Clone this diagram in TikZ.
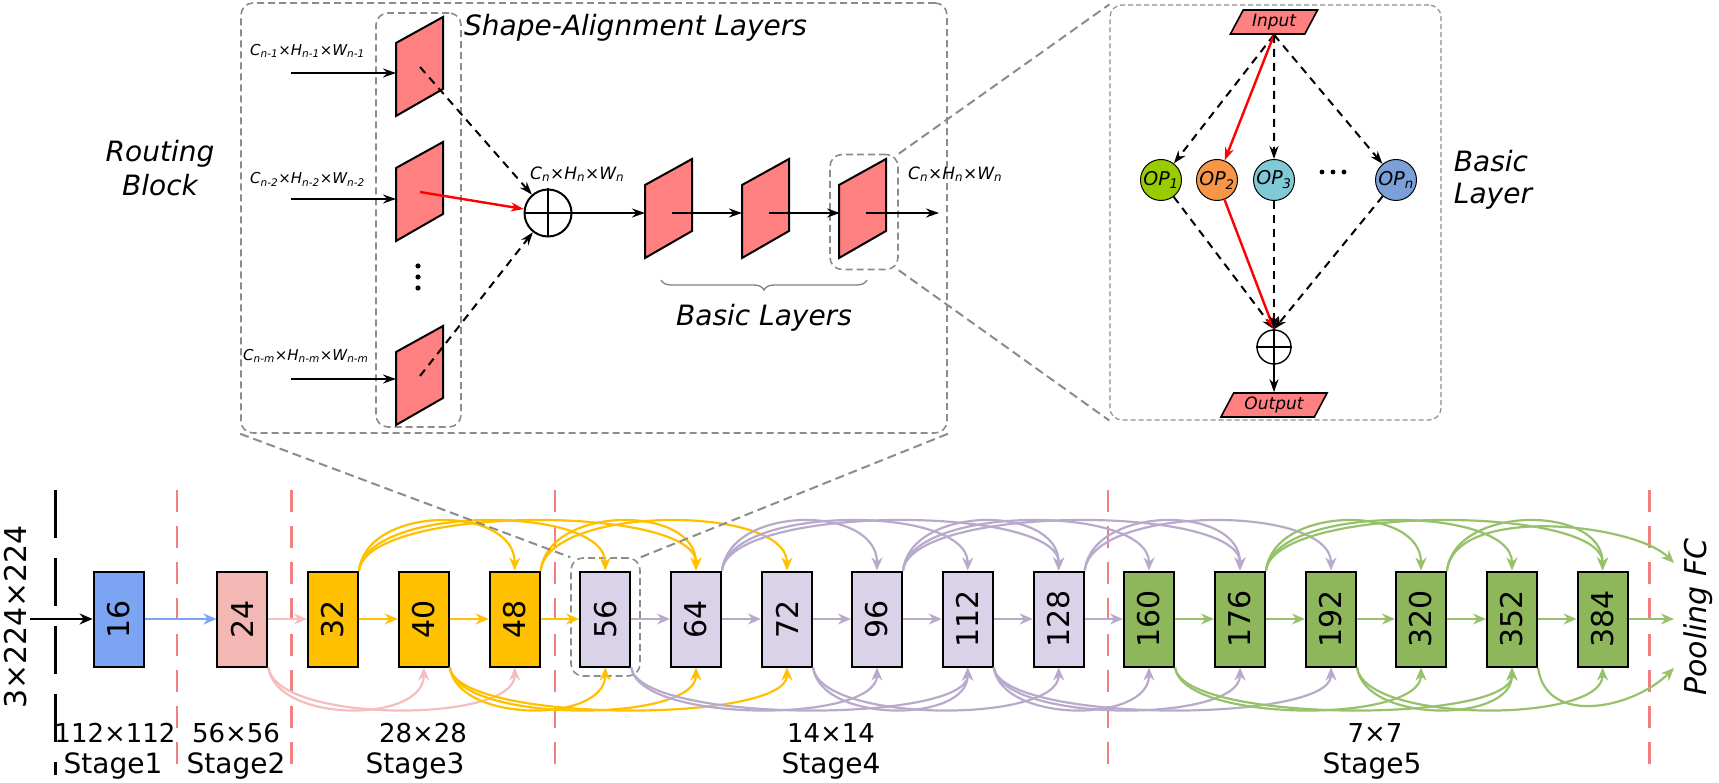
\documentclass[tikz,border=0pt]{standalone}
\usepackage{fontspec}
\setmainfont{DejaVu Sans}
\usetikzlibrary{arrows.meta,decorations.pathreplacing,shapes.geometric}
\definecolor{cblue}{HTML}{7BA4F2}
\definecolor{cpinkbox}{HTML}{F4B8B4}
\definecolor{cyel}{HTML}{FFC000}
\definecolor{cpurbox}{HTML}{D9D2E9}
\definecolor{cgrebox}{HTML}{8EB65A}
\definecolor{apur}{HTML}{B8AACB}
\definecolor{agre}{HTML}{97C16A}
\definecolor{apink}{HTML}{F5BDBD}
\definecolor{ctrap}{HTML}{FF8080}
\definecolor{cop1}{HTML}{99CC00}
\definecolor{cop2}{HTML}{F79646}
\definecolor{cop3}{HTML}{7FCAD6}
\definecolor{copn}{HTML}{7B9FD8}
\definecolor{cstage}{HTML}{F08080}
\newcommand\fs[1]{\fontsize{#1}{#1}\selectfont}
\newcommand\upar[3]{\draw[arc,#1] (#2.north east) .. controls +(8,-66) and +(0,-66) .. (#3.north);}
\newcommand\dnar[3]{\draw[arc,#1] (#2.south east) .. controls +(8,56) and +(0,56) .. (#3.south);}
\tikzset{
 x=1pt,y=-1pt,
 box/.style={draw=black,line width=2pt,minimum width=50pt,minimum height=95pt,inner sep=0pt,font=\fs{30}},
 arc/.style={line width=2.2pt,-{Stealth[length=13pt,width=11pt]}},
 chain/.style={line width=2.2pt,-{Stealth[length=13pt,width=11pt]}},
 stage/.style={cstage,line width=2.5pt,dash pattern=on 22pt off 14pt},
 zoomline/.style={gray!90,line width=2pt,dash pattern=on 9pt off 5pt},
 grbox/.style={draw=gray!90,line width=1.6pt,dash pattern=on 7pt off 4pt,rounded corners=12pt,inner sep=0pt},
 trap/.style={draw=black,fill=ctrap,line width=2pt},
 blk/.style={line width=2pt,-{Stealth[length=13pt,width=9pt]}},
 dblk/.style={blk,dash pattern=on 8pt off 6pt},
 red/.style={blk,draw=red,line width=2.4pt},
 op/.style={circle,draw=black,line width=1pt,minimum size=41pt,inner sep=0pt,font=\fs{19}\itshape},
 io/.style={trapezium,trapezium left angle=62,trapezium right angle=118,draw=black,fill=ctrap,line width=1.6pt,minimum width=54pt,minimum height=24pt,inner sep=1pt,font=\fs{17}\itshape},
 lab/.style={font=\fs{15}\itshape,inner sep=0pt},
 big/.style={font=\fs{28}\itshape,inner sep=0pt,align=center}
}
\begin{document}
\begin{tikzpicture}
\useasboundingbox (0,0) rectangle (1719,783);
% ---------- bottom row ----------
\foreach \xx in {177,291.6,555,1108,1649.5} \draw[stage] (\xx,490) -- (\xx,775);
\draw[line width=3pt,dash pattern=on 48pt off 20pt] (55.5,490) -- (55.5,775);
\node[rotate=90,font=\fs{30},inner sep=0pt] (inlab) at (16,617) {3×224×224};
\node[rotate=90,font=\fs{30}\itshape,inner sep=0pt] (pool) at (1698,617) {Pooling FC};
\coordinate (in) at (30,619);
\coordinate (poolT) at (1674,563);
\coordinate (poolM) at (1674,619);
\coordinate (poolB) at (1674,668);
\node[box,fill=cblue] (b16) at (118.6,619) {\rotatebox{90}{16}};
\node[box,fill=cpinkbox] (b24) at (242.4,619) {\rotatebox{90}{24}};
\foreach \n/\xx in {32/333,40/423.8,48/514.7} \node[box,fill=cyel] (b\n) at (\xx,619) {\rotatebox{90}{\n}};
\foreach \n/\xx in {56/605.2,64/696,72/787,96/877,112/967.7,128/1058.7} \node[box,fill=cpurbox] (b\n) at (\xx,619) {\rotatebox{90}{\n}};
\foreach \n/\xx in {160/1149,176/1240,192/1331,320/1421,352/1512,384/1602.6} \node[box,fill=cgrebox] (b\n) at (\xx,619) {\rotatebox{90}{\n}};
\node[grbox,minimum width=69pt,minimum height=118pt] (d56) at (605.5,617) {};
% stage labels
\foreach \t/\xx in {112×112/115,56×56/236,28×28/423,14×14/831,7×7/1375}{
  \node[font=\fs{26},inner sep=0pt] at (\xx,733) {\t};}
\foreach \xx/\s in {113/1,236/2,415/3,831/4,1372/5}{
  \node[font=\fs{28},inner sep=0pt] at (\xx,766) {Stage\s};}
% chain
\draw[chain,black] (in) -- (b16.west);
\draw[chain,cblue] (b16) -- (b24);
\draw[chain,apink] (b24) -- (b32);
\draw[chain,cyel] (b32) -- (b40);
\draw[chain,cyel] (b40) -- (b48);
\draw[chain,cyel] (b48) -- (b56);
\foreach \a/\b in {56/64,64/72,72/96,96/112,112/128,128/160} \draw[chain,apur] (b\a) -- (b\b);
\foreach \a/\b in {160/176,176/192,192/320,320/352,352/384} \draw[chain,agre] (b\a) -- (b\b);
\draw[chain,agre] (b384) -- (poolM);
% arcs
\dnar{apink}{b24}{b40} \dnar{apink}{b24}{b48}
\upar{cyel}{b32}{b48} \upar{cyel}{b32}{b56} \upar{cyel}{b32}{b64}
\upar{cyel}{b48}{b64} \upar{cyel}{b48}{b72}
\dnar{cyel}{b40}{b56} \dnar{cyel}{b40}{b64} \dnar{cyel}{b40}{b72}
\upar{apur}{b64}{b96} \upar{apur}{b64}{b112} \upar{apur}{b64}{b128}
\upar{apur}{b96}{b128} \upar{apur}{b96}{b160} \upar{apur}{b96}{b176}
\upar{apur}{b128}{b176} \upar{apur}{b128}{b192}
\dnar{apur}{b56}{b96} \dnar{apur}{b56}{b112}
\dnar{apur}{b72}{b112} \dnar{apur}{b72}{b128}
\dnar{apur}{b112}{b160} \dnar{apur}{b112}{b176} \dnar{apur}{b112}{b192}
\upar{agre}{b176}{b320} \upar{agre}{b176}{b352} \upar{agre}{b176}{b384}
\upar{agre}{b320}{b384}
\dnar{agre}{b160}{b320} \dnar{agre}{b160}{b352}
\dnar{agre}{b192}{b352} \dnar{agre}{b192}{b384}
\draw[arc,agre] (b320.north east) .. controls +(8,-66) and +(-40,-40) .. (poolT);
\draw[arc,agre] (b352.south east) .. controls +(8,60) and +(-40,40) .. (poolB);
% ---------- top-left panel ----------
\node[grbox,minimum width=706pt,minimum height=430pt] (big) at (594,218) {};
\node[grbox,minimum width=85pt,minimum height=414pt] (sa) at (418.5,220) {};
\node[big,anchor=west] at (464,28) {Shape-Alignment Layers};
\node[big] at (160,168) {Routing\\[6pt]Block};
\foreach \nm/\xx/\yy in {t1/420/67,t2/420/192,tm/420/376,tA/669/209,tB/766/209,tC/863/209}{
  \draw[trap,shift={(\xx,\yy)}] (-24,-24) -- (23,-50) -- (23,22) -- (-24,49) -- cycle;
  \coordinate (\nm) at (\xx,\yy);}
\node[grbox,minimum width=68pt,minimum height=115pt] (sb) at (864,212) {};
\coordinate (i1) at (291,73); \coordinate (i2) at (291,199); \coordinate (im) at (291,379);
\draw[blk] (i1) -- (396,73);
\draw[blk] (i2) -- (396,199);
\draw[blk] (im) -- (396,379);
\node[lab,anchor=south west] at (250,58) {C\textsubscript{n-1}×H\textsubscript{n-1}×W\textsubscript{n-1}};
\node[lab,anchor=south west] at (250,187) {C\textsubscript{n-2}×H\textsubscript{n-2}×W\textsubscript{n-2}};
\node[lab,anchor=south west] at (243,363) {C\textsubscript{n-m}×H\textsubscript{n-m}×W\textsubscript{n-m}};
\foreach \yy in {266,277,288} \fill (418,\yy) circle (2.6pt);
\node[circle,draw=black,line width=2pt,minimum size=47pt,inner sep=0pt] (sum) at (548,213) {};
\draw[line width=2pt] (sum.west) -- (sum.east) (sum.north) -- (sum.south);
\node[lab,anchor=south west,font=\fs{17}\itshape] at (530,182) {C\textsubscript{n}×H\textsubscript{n}×W\textsubscript{n}};
\draw[dblk] (t1) -- (sum);
\draw[red] (t2) -- (sum);
\draw[dblk] (tm) -- (sum);
\draw[blk] (sum) -- (645,213);
\draw[blk] (672,213) -- (742,213);
\draw[blk] (769,213) -- (840,213);
\draw[blk] (866,213) -- (939,213);
\node[lab,anchor=south west,font=\fs{17}\itshape] at (908,182) {C\textsubscript{n}×H\textsubscript{n}×W\textsubscript{n}};
\draw[gray,line width=1.3pt,decorate,decoration={brace,mirror,amplitude=10pt}] (661,280) -- (867,280);
\node[big] at (764,318) {Basic Layers};
% ---------- right panel ----------
\node[grbox,line width=1.2pt,dash pattern=on 5pt off 3pt,minimum width=331pt,minimum height=415pt] (rb) at (1275.5,212.5) {};
\node[io] (inp) at (1274,22) {Input};
\node[op,fill=cop1] (op1) at (1161,180) {OP\textsubscript{1}};
\node[op,fill=cop2] (op2) at (1217,180) {OP\textsubscript{2}};
\node[op,fill=cop3] (op3) at (1274,180) {OP\textsubscript{3}};
\node[op,fill=copn] (opn) at (1396,180) {OP\textsubscript{n}};
\foreach \xx in {1322,1333,1344} \fill (\xx,172) circle (2.4pt);
\node[circle,draw=black,line width=1.4pt,minimum size=34pt,inner sep=0pt] (rs) at (1274,347) {};
\draw[line width=1.4pt] (rs.west) -- (rs.east) (rs.north) -- (rs.south);
\node[io] (outp) at (1274,405) {Output};
\draw[dblk] (inp.south) -- (op1);
\draw[red] (inp.south) -- (op2);
\draw[dblk] (inp.south) -- (op3);
\draw[dblk] (inp.south) -- (opn);
\draw[dblk] (op1) -- (rs.north);
\draw[red] (op2) -- (rs.north);
\draw[dblk] (op3) -- (rs.north);
\draw[dblk] (opn) -- (rs.north);
\draw[blk] (rs) -- (outp);
\node[big,align=left] at (1493,180) {Basic\\[4pt]Layer};
% ---------- zoom lines ----------
\draw[zoomline] (big.south west) -- (d56.north west);
\draw[zoomline] (big.south east) -- (d56.north east);
\draw[zoomline] (sb.north east) -- (rb.north west);
\draw[zoomline] (sb.south east) -- (rb.south west);
\end{tikzpicture}
\end{document}
